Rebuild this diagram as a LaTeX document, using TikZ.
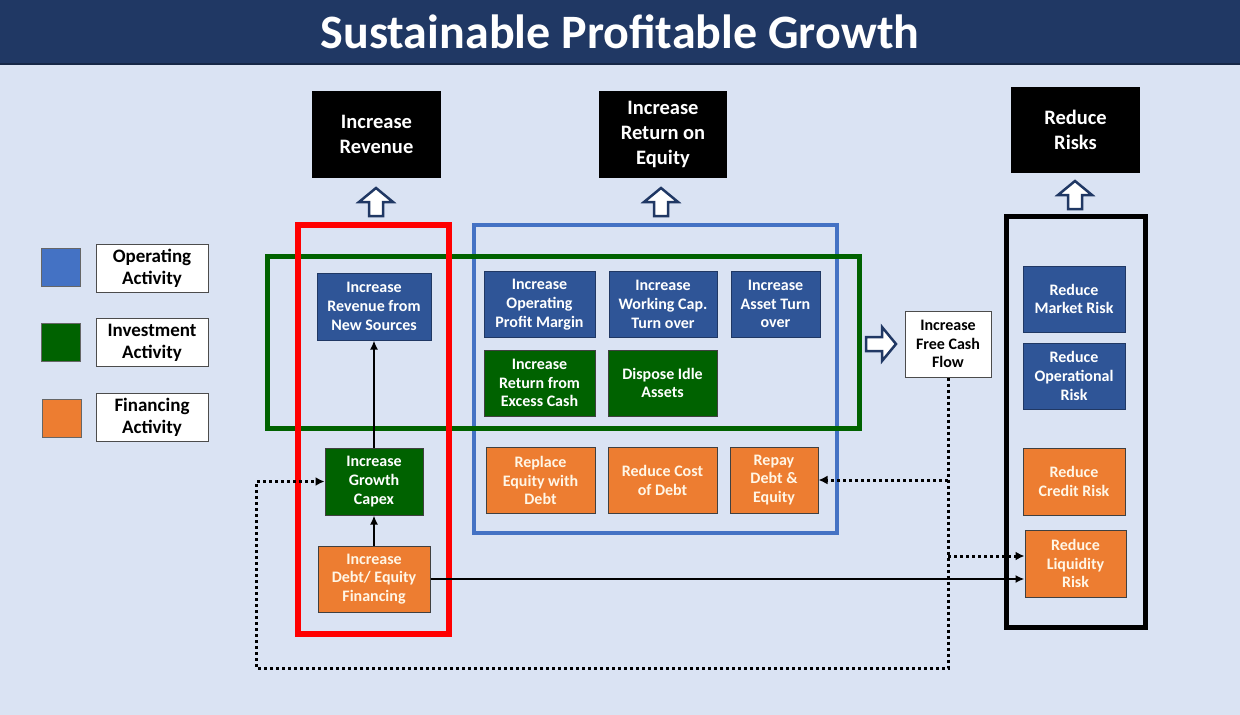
\documentclass[tikz,border=0pt]{standalone}
\usepackage{fontspec}
\setmainfont{Carlito}
\usetikzlibrary{arrows.meta}
\definecolor{pagebg}{RGB}{218,227,243}
\definecolor{titlenavy}{RGB}{32,56,100}
\definecolor{opblue}{RGB}{47,85,151}
\definecolor{legblue}{RGB}{68,114,196}
\definecolor{invgreen}{RGB}{0,98,0}
\definecolor{finorange}{RGB}{237,125,49}
\definecolor{fintext}{RGB}{255,246,230}

\begin{document}
\begin{tikzpicture}[x=1pt,y=-1pt,thick,
      goal box/.style={fill=black,text=white,align=center,inner sep=2pt,
        minimum width=129pt,minimum height=87pt,font=\fontsize{20.5}{25}\selectfont\bfseries},
      act box/.style={draw=black!75,line width=1pt,text=white,align=center,inner sep=1pt,
        minimum height=66pt,font=\fontsize{16}{18.8}\selectfont\bfseries},
      op box/.style={act box,fill=opblue,draw=titlenavy},
      inv box/.style={act box,fill=invgreen},
      fin box/.style={act box,fill=finorange,text=fintext},
      note box/.style={act box,fill=white,text=black},
      key box/.style={fill=white,draw=black!70,line width=1pt,align=center,
        minimum width=112pt,minimum height=48pt,font=\fontsize{19}{22}\selectfont\bfseries},
      key swatch/.style={draw=black!60,line width=1pt,minimum width=39pt,minimum height=38pt},
      block arrow/.style={draw=titlenavy,fill=white,line width=2.5pt,line join=miter},
      link/.style={line width=2.2pt,-{Latex[length=9pt,width=8pt]}},
      dotted link/.style={line width=3pt,dash pattern=on 3pt off 3pt,-{Latex[length=9pt,width=9pt]}}]
    \useasboundingbox (0,0) rectangle (1240,715);
    \fill[pagebg] (0,0) rectangle (1240,715);
    % title bar
    \fill[titlenavy] (0,0) rectangle (1240,64);
    \draw[titlenavy!70!black,line width=2pt] (0,64) -- (1240,64);
    \node[text=white,font=\fontsize{48}{52}\selectfont\bfseries] (title) at (620,32) {Sustainable Profitable Growth};

    % goals
    \node[goal box] (goalRev) at (376.5,134.5) {Increase\\Revenue};
    \node[goal box,minimum width=128pt] (goalRoe) at (663,134.5) {Increase\\Return on\\Equity};
    \node[goal box,minimum height=86pt] (goalRisk) at (1075.5,130) {Reduce\\Risks};

    % hollow arrows
    \coordinate (upRev) at (376,216);
    \coordinate (upRoe) at (661,216);
    \coordinate (upRisk) at (1075,209);
    \foreach \c in {upRev,upRoe,upRisk}
      \draw[block arrow] (\c) ++(-7,0) -- ++(0,-14) -- ++(-10,0) -- ++(17,-14)
        -- ++(17,14) -- ++(-10,0) -- ++(0,14) -- cycle;
    \coordinate (toFcf) at (866,344);
    \draw[block arrow] (toFcf) ++(0,-7) -- ++(16,0) -- ++(0,-10) -- ++(14,17)
        -- ++(-14,17) -- ++(0,-10) -- ++(-16,0) -- cycle;

    % legend
    \node[key swatch,fill=legblue] (keyOp) at (60.5,267) {};
    \node[key box] (keyOpText) at (152,268) {Operating\\Activity};
    \node[key swatch,fill=invgreen] (keyInv) at (60.5,342) {};
    \node[key box] (keyInvText) at (152,342.5) {Investment\\Activity};
    \node[key swatch,fill=finorange] (keyFin) at (61.5,418) {};
    \node[key box] (keyFinText) at (152,417) {Financing\\Activity};

    % revenue column
    \node[op box,minimum width=114pt,minimum height=67pt] (newSrc) at (374,306.5) {Increase\\Revenue from\\New Sources};
    \node[inv box,minimum width=98pt,minimum height=67pt] (capex) at (374,481.5) {Increase\\Growth\\Capex};
    \node[fin box,minimum width=112pt] (debtFin) at (374,579) {Increase\\Debt/ Equity\\Financing};

    % return on equity block
    \node[op box,minimum width=111pt] (opMargin) at (539.5,304.5) {Increase\\Operating\\Profit Margin};
    \node[op box,minimum width=108pt] (wcTurn) at (663,304.5) {Increase\\Working Cap.\\Turn over};
    \node[op box,minimum width=89pt] (assetTurn) at (775.5,304) {Increase\\Asset Turn\\over};
    \node[inv box,minimum width=111pt] (excessCash) at (539.5,383) {Increase\\Return from\\Excess Cash};
    \node[inv box,minimum width=109pt] (idleAssets) at (662.5,383) {Dispose Idle\\Assets};
    \node[fin box,minimum width=109pt] (replaceEq) at (540.5,480.5) {Replace\\Equity with\\Debt};
    \node[fin box,minimum width=109pt] (costDebt) at (662.5,480.5) {Reduce Cost\\of Debt};
    \node[fin box,minimum width=88pt] (repay) at (774,480) {Repay\\Debt \&\\Equity};

    \node[note box,minimum width=86pt,draw=black!70] (fcf) at (948,344) {Increase\\Free Cash\\Flow};

    % risk column
    \node[op box,minimum width=102pt] (mktRisk) at (1074,299) {Reduce\\Market Risk};
    \node[op box,minimum width=102pt] (opRisk) at (1074,376) {Reduce\\Operational\\Risk};
    \node[fin box,minimum width=102pt,minimum height=67pt] (credRisk) at (1074,481.5) {Reduce\\Credit Risk};
    \node[fin box,minimum width=101pt,minimum height=67pt] (liqRisk) at (1075.5,563.5) {Reduce\\Liquidity\\Risk};

    % group frames
    \draw[legblue,line width=4pt] (474,225) rectangle (837,533);
    \draw[invgreen,line width=5pt] (267,256) rectangle (859,428);
    \draw[red,line width=6pt] (298,225) rectangle (449,634);
    \draw[black,line width=5pt] (1006,216) rectangle (1145,627);

    % links
    \draw[link] (capex) -- (newSrc);
    \draw[link] (debtFin) -- (capex);
    \draw[link] (debtFin.east) -- (debtFin.east -| liqRisk.west);
    \coordinate (loopBR) at (948,668);
    \coordinate (loopBL) at (256,668);
    \coordinate (tapRepay) at (948,480);
    \coordinate (tapLiq) at (948,556);
    \draw[dotted link] (fcf.south) -- (loopBR) -- (loopBL) |- (capex.west);
    \draw[dotted link] (tapRepay) -- (repay.east);
    \draw[dotted link] (tapLiq) -- (tapLiq -| liqRisk.west);
\end{tikzpicture}
\end{document}
